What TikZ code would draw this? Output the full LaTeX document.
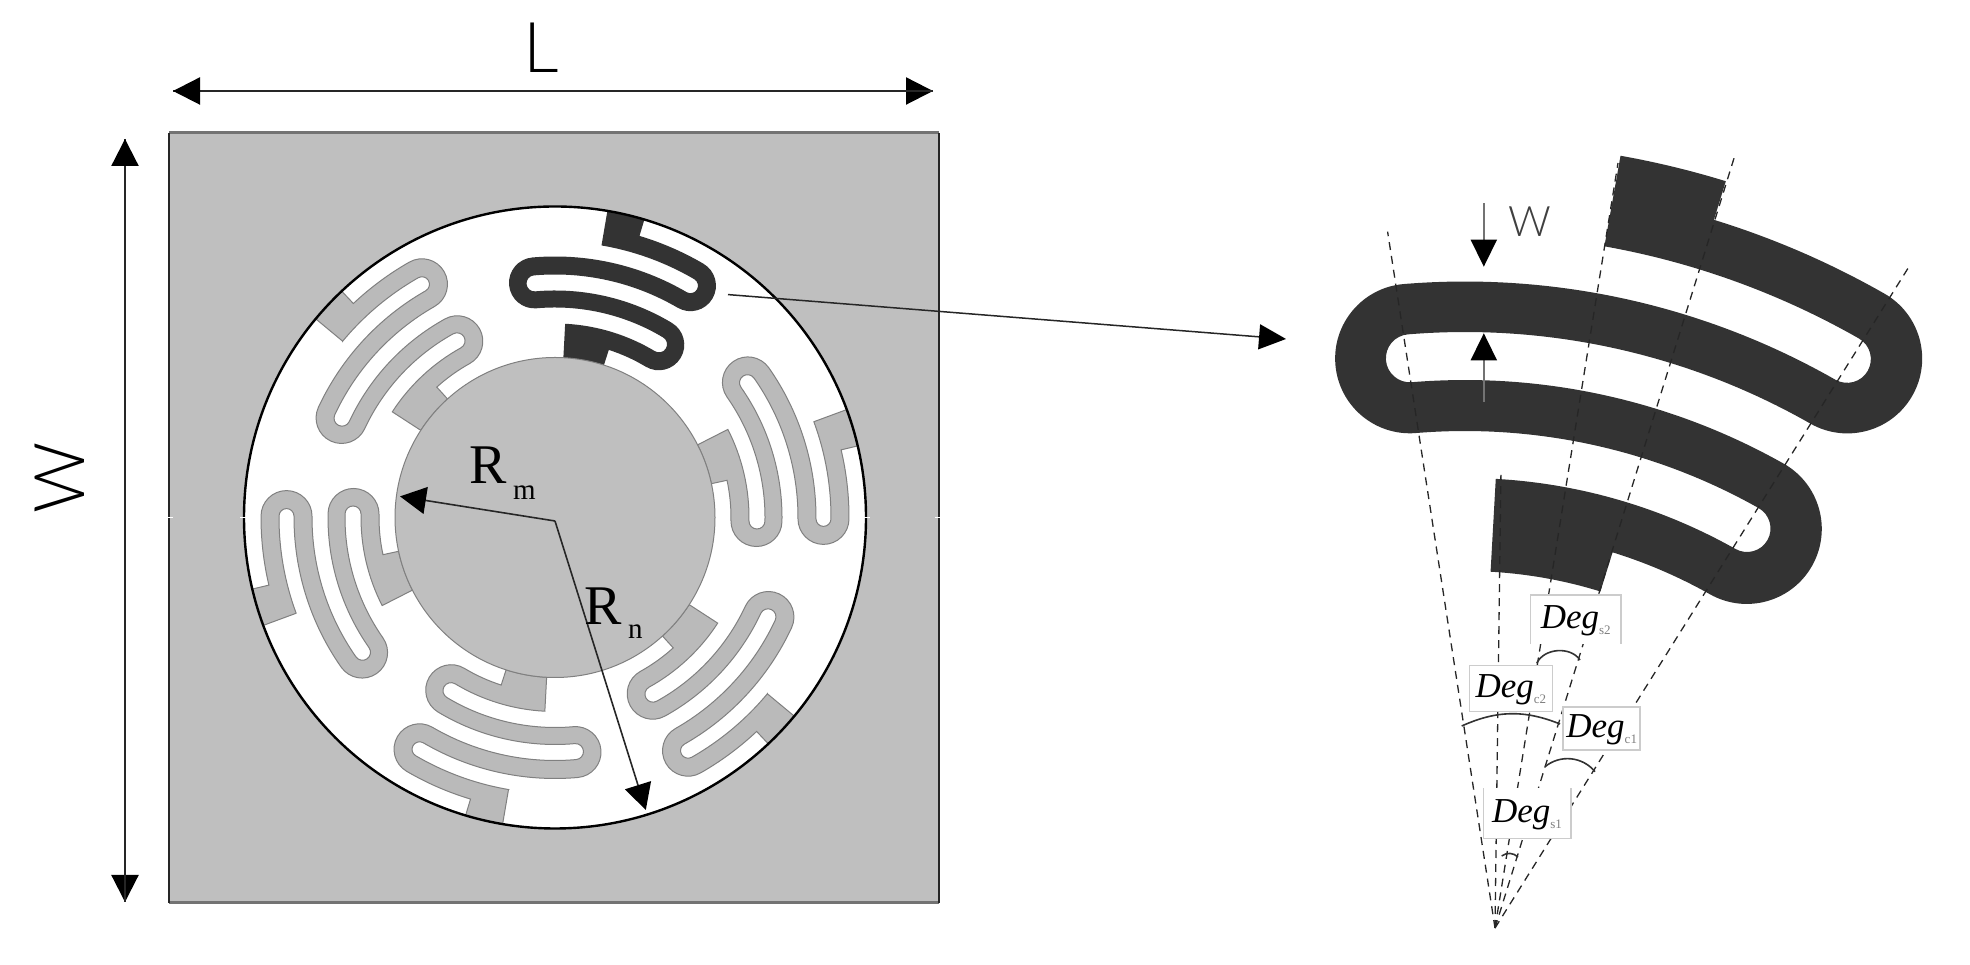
\documentclass[tikz,border=0pt]{standalone}
\usepackage{fontspec}
\setmainfont{Liberation Serif}
\newfontfamily\thinsans{Lato Light}
\usetikzlibrary{arrows.meta}

\begin{document}
\begin{tikzpicture}[x=1pt, y=1pt,
		dim_style/.style={draw=black!85,line width=2.2pt,-{Triangle[length=27pt,width=27pt,color=black]}},
		radius_style/.style={draw=black!85,line width=1.6pt,-{Triangle[length=26pt,width=27pt,color=black]}},
		lead_style/.style={draw=black!85,line width=1.5pt,-{Triangle[length=27pt,width=25pt,color=black]}},
		w_style/.style={draw=black!55,line width=1.8pt,-{Triangle[length=27pt,width=26pt,color=black]}},
		ray_style/.style={draw=black!85,line width=1.3pt,dash pattern=on 8pt off 6pt},
		angle_style/.style={draw=black!80,line width=1.6pt},
		deg_style/.style={fill=white,inner sep=0pt,text height=26pt,text depth=8pt},
		deg_line/.style={draw=black!20,line width=1.6pt},
		label_style/.style={inner sep=0pt,anchor=base}]
		
		\useasboundingbox (0,0) rectangle (1970,965);
		
		% left figure
		\fill[black!25] (169,62) rectangle (939,832);
		\draw[black!55,line width=3pt] (169,62) -- (939,62) (169,832) -- (939,832);
		\draw[black!85,line width=2.2pt] (169,62) -- (169,832) (939,62) -- (939,832);
		
		\fill[white] (555,447.5) circle (311);
		
		\foreach \rot in {60,120,180,240,300}{
			\begin{scope}[shift={(555,447.5)},rotate=\rot]
				\path[fill=black!27,draw=black!50,line width=1pt] (80.3:276) -- (80.3:311) arc (80.3:73.3:311) -- (73.3:294) arc (73.3:59.7:294)
					arc (59.7:-120.3:25.5) arc (59.7:95:243) arc (95:275:8) arc (95:59:227) arc (59:-121:25.5) arc (59:72.2:176)
					-- (72.2:160) arc (72.2:87:160) -- (87:194) arc (87:59:194) arc (-121:59:8) arc (59:95:210)
					arc (275:95:25.5) arc (95:59.7:261) arc (-120.3:59.7:7.5) arc (59.7:80.3:276) -- cycle;
			\end{scope}
		}
		\begin{scope}[shift={(555,447.5)}]
			\path[fill=black!80] (80.3:276) -- (80.3:311) arc (80.3:73.3:311) -- (73.3:294) arc (73.3:59.7:294)
				arc (59.7:-120.3:25.5) arc (59.7:95:243) arc (95:275:8) arc (95:59:227) arc (59:-121:25.5) arc (59:72.2:176)
				-- (72.2:160) arc (72.2:87:160) -- (87:194) arc (87:59:194) arc (-121:59:8) arc (59:95:210)
				arc (275:95:25.5) arc (95:59.7:261) arc (-120.3:59.7:7.5) arc (59.7:80.3:276) -- cycle;
		\end{scope}
		
		\filldraw[fill=black!25,draw=black!50,line width=1pt] (555,447.5) circle (160);
		\draw[black,line width=2.4pt] (555,447.5) circle (311);
		
		\draw[white,line width=1.5pt] (165,447.5) -- (173,447.5) (935,447.5) -- (943,447.5) (240,447.5) -- (248,447.5) (862,447.5) -- (870,447.5);
		
		\coordinate (arrow_l0) at (173,874);
		\coordinate (arrow_l1) at (933,874);
		\coordinate (arrow_w0) at (125,826);
		\coordinate (arrow_w1) at (125,63);
		\coordinate (center_o) at (555,444);
		\coordinate (tip_m) at (400,468.6);
		\coordinate (tip_n) at (645.8,155);
		\coordinate (lead_a) at (728,670.4);
		\coordinate (lead_b) at (1286,626);
		
		\draw[dim_style] (arrow_l0) -- (arrow_l1);
		\draw[dim_style] (arrow_l1) -- (arrow_l0);
		\draw[dim_style] (arrow_w0) -- (arrow_w1);
		\draw[dim_style] (arrow_w1) -- (arrow_w0);
		\draw[radius_style] (center_o) -- (tip_m);
		\draw[radius_style] (center_o) -- (tip_n);
		\draw[lead_style] (lead_a) -- (lead_b);
		
		\node[label_style,font=\thinsans\fontsize{70}{70}\selectfont] (label_l) at (541,892) {L};
		\node[label_style,rotate=90,font=\thinsans\fontsize{70}{70}\selectfont] (label_w) at (84,487) {W};
		\node[label_style,anchor=base west,font=\fontsize{56}{56}\selectfont] (label_rm) at (469,481) {R};
		\node[label_style,anchor=base west,font=\fontsize{29}{29}\selectfont] (label_m) at (513,465) {m};
		\node[label_style,anchor=base west,font=\fontsize{56}{56}\selectfont] (label_rn) at (584,340.4) {R};
		\node[label_style,anchor=base west,font=\fontsize{29}{29}\selectfont] (label_n) at (628,326) {n};
		
		% right figure
		\begin{scope}[shift={(1465,-64)}]
			\path[fill=black!80] (79.9:795) -- (79.9:887) arc (79.9:72.9:887) -- (72.9:846.6) arc (72.9:60.3:846.6)
				arc (60.3:-119.7:74.8) arc (60.3:94.7:697) arc (94.7:274.7:24) arc (94.7:60.6:649) arc (60.6:-119.4:75) arc (60.6:72.8:499)
				-- (72.8:458) arc (72.8:86.8:458) -- (86.8:551) arc (86.8:60.6:551) arc (-119.4:60.6:23.5) arc (60.6:94.7:598)
				arc (274.7:94.7:74.75) arc (94.7:60.3:747.5) arc (-119.7:60.3:23.75) arc (60.3:79.9:795) -- cycle;
		\end{scope}
		
		\coordinate (apex) at (1495,37);
		\coordinate (ray_a) at (1387.6,733.3);
		\coordinate (ray_b) at (1500.9,490);
		\coordinate (ray_c) at (1618,802);
		\coordinate (ray_d) at (1735,810);
		\coordinate (ray_e) at (1909,698.3);
		\foreach \r in {a,b,c,d,e}
			\draw[ray_style] (apex) -- (ray_\r);
		
		\coordinate (w_top) at (1483.8,761.7);
		\coordinate (w_top_tip) at (1483.8,698.3);
		\coordinate (w_bot) at (1483.8,563.3);
		\coordinate (w_bot_tip) at (1483.8,631.7);
		\draw[w_style] (w_top) -- (w_top_tip);
		\draw[w_style] (w_bot) -- (w_bot_tip);
		\node[label_style,text=black!75,font=\thinsans\fontsize{42}{42}\selectfont] (label_ww) at (1529.5,728) {W};
		
		% angle marks
		\coordinate (s2_a) at (1536.7,301.7);
		\coordinate (s2_b) at (1580,305);
		\coordinate (c2_a) at (1461.7,239);
		\coordinate (c2_b) at (1560,241);
		\coordinate (c1_a) at (1545,198.3);
		\coordinate (c1_b) at (1595,193.3);
		\coordinate (s1_a) at (1501.7,109);
		\coordinate (s1_b) at (1518,108);
		\draw[angle_style] (s2_a) to[bend left=60] (s2_b);
		\draw[angle_style] (c2_a) to[bend left=23] (c2_b);
		\draw[angle_style] (c1_a) to[bend left=45] (c1_b);
		\draw[angle_style] (s1_a) to[bend left=40] (s1_b);
		
		\newcommand{\degtext}[1]{{\fontsize{35}{35}\selectfont\textit{Deg}}\raisebox{-6pt}{\fontsize{13}{13}\selectfont\textcolor{black!50}{#1}}}
		\node[deg_style,minimum width=90pt,minimum height=49pt] (deg_s2) at (1575.7,345.5) {\degtext{s2}};
		\node[deg_style,minimum width=83pt,minimum height=46pt,draw=black!20,line width=1.6pt] (deg_c2) at (1510.8,276.3) {\degtext{c2}};
		\node[deg_style,minimum width=77pt,minimum height=43pt,draw=black!20,line width=1.6pt] (deg_c1) at (1601.7,236.7) {\degtext{c1}};
		\node[deg_style,minimum width=87pt,minimum height=50pt] (deg_s1) at (1527,151.7) {\degtext{s1}};
		\draw[deg_line] (deg_s2.south west) |- (deg_s2.north east) -- (deg_s2.south east);
		\draw[deg_line] (deg_s1.north west) |- (deg_s1.south east) -- (deg_s1.north east);
		
\end{tikzpicture}
\end{document}
